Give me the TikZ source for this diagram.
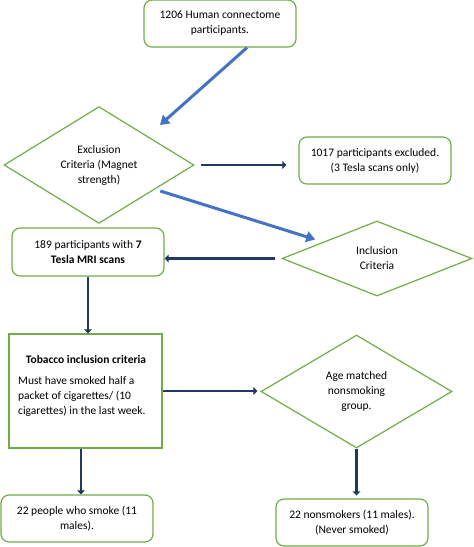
\documentclass[tikz,border=0pt]{standalone}
\usepackage{fontspec}
\setmainfont{Carlito}
\usetikzlibrary{shapes.geometric,arrows.meta,calc}
\definecolor{boxgreen}{HTML}{70AD47}
\definecolor{arrowblue}{HTML}{4472C4}
\definecolor{navyc}{HTML}{203864}
\begin{document}
\begin{tikzpicture}[x=1pt,y=-1pt,
  txt/.style={font=\fontsize{11.5}{15}\selectfont},
  rbox/.style={txt,draw=boxgreen,line width=1.2pt,rounded corners=8pt,minimum width=152pt,minimum height=47pt,align=center,inner sep=0pt},
  dia/.style={txt,diamond,draw=boxgreen,line width=1.2pt,inner sep=0pt,align=center},
  navyarrow/.style={draw=navyc,line width=2.8pt,-{Triangle[length=4pt,width=7.5pt]}},
  bluearrow/.style={draw=arrowblue,line width=3pt,-{Triangle[length=9pt,width=11pt]}}]
\useasboundingbox (0,0) rectangle (474,547);
% nodes
\node[rbox] (b1) at (220,23.5) {1206 Human connectome\\participants.};
\node[dia,minimum width=190pt,minimum height=106pt] (d1) at (99,165) {Exclusion\\Criteria (Magnet\\strength)};
\node[rbox] (excl) at (375,160.5) {1017 participants excluded.\\(3 Tesla scans only)};
\node[dia,minimum width=190pt,minimum height=75pt] (inc) at (377,258.5) {Inclusion\\Criteria};
\node[rbox,minimum height=48pt] (b189) at (88,252) {189 participants with \textbf{7}\\\textbf{Tesla MRI scans}};
\node[draw=boxgreen,line width=1.2pt,minimum width=153pt,minimum height=114pt,inner sep=0pt] (tob) at (85.5,391) {};
\node[txt,font=\fontsize{11.5}{15}\selectfont\bfseries] (tobt) at (86,360) {Tobacco inclusion criteria};
\node[txt,anchor=north west,align=left,inner sep=0pt] (tobb) at (18,376) {Must have smoked half a\\packet of cigarettes/ (10\\cigarettes) in the last week.};
\node[dia,minimum width=191pt,minimum height=113pt] (age) at (356.5,391.5) {Age matched\\nonsmoking\\group.};
\node[rbox] (p22) at (77,518.5) {22 people who smoke (11\\males).};
\node[rbox,minimum height=47pt] (ns) at (352,522.5) {22 nonsmokers (11 males).\\(Never smoked)};
\coordinate (c1) at (160,125);
% connectors
\draw[bluearrow] ([xshift=27pt]b1.south) -- (c1);
\draw[navyarrow,shorten <=6pt,shorten >=12pt] (d1.east) -- (d1.east -| excl.west);
\draw[bluearrow] ([xshift=13.5pt,yshift=3.5pt]d1.south east) -- ([xshift=-14pt]inc.north west);
\draw[navyarrow,shorten <=6pt] (inc.west) -- (b189.east |- inc.west);
\draw[navyarrow] (b189.south) -- (b189.south |- tob.north);
\draw[navyarrow,shorten >=3pt] (tob.east) -- (tob.east -| age.west);
\draw[navyarrow] ([xshift=-4.5pt]tob.south) -- ([xshift=4pt]p22.north);
\draw[navyarrow,shorten >=3pt] (age.south) -- (age.south |- ns.north);
\end{tikzpicture}
\end{document}
